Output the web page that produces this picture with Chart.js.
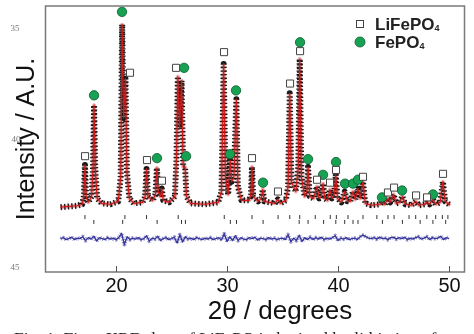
<!DOCTYPE html>
<html>
<head>
<meta charset="utf-8">
<script src="https://cdn.jsdelivr.net/npm/chart.js@4.4.1/dist/chart.umd.min.js"></script>
<style>
  body { margin: 0; background: #fff; }
  canvas { display: block; }
</style>
</head>
<body>
<canvas id="xrd" width="474" height="334"></canvas>
<script>
// observed / calculated profile (2theta, intensity above background)
var profX = [15.0, 16.5, 16.95, 17.1, 17.2, 17.3, 17.5, 17.8, 17.93, 18.02, 18.12, 18.3, 18.7, 19.5,
  20.2, 20.42, 20.55, 20.68, 20.85, 20.98, 21.2, 21.6, 22.4, 22.62, 22.75, 22.88, 23.3, 23.55, 23.68,
  23.8, 24.0, 24.12, 24.25, 24.8, 25.3, 25.45, 25.57, 25.72, 25.9, 26.05, 26.22, 26.35, 26.7, 28.0,
  29.2, 29.5, 29.7, 29.85, 30.1, 30.28, 30.42, 30.62, 30.84, 30.98, 31.3, 32.0, 32.15, 32.25, 32.35,
  32.8, 33.1, 33.22, 33.35, 34.3, 34.58, 34.8, 35.3, 35.5, 35.65, 35.8, 36.2, 36.42, 36.55, 36.7,
  37.0, 37.2, 37.3, 37.45, 37.8, 38.1, 38.3, 38.5, 38.65, 38.8, 39.05, 39.27, 39.45, 39.65, 39.8,
  39.95, 40.3, 40.6, 40.85, 41.1, 41.35, 41.55, 41.8, 42.0, 42.25, 42.45, 43.0, 43.8, 44.0, 44.2,
  44.5, 44.7, 45.0, 45.25, 45.55, 45.8, 46.05, 46.6, 47.0, 47.3, 47.8, 48.0, 48.25, 48.55, 48.8,
  49.2, 49.45, 49.65, 50.1];
var profY = [-1, 0.5, 2, 10, 42, 10, 4, 10, 40, 103, 40, 8, 3, 2,
  5, 30, 185, 90, 130, 35, 8, 3, 4, 10, 38, 10, 6, 12, 39,
  15, 10, 18, 6, 4, 10, 50, 132, 80, 128, 40, 40, 10, 3, 2,
  4, 15, 145, 30, 12, 47, 25, 30, 109, 20, 6, 6, 12, 40, 10,
  5, 8, 17, 5, 3, 7, 3, 6, 20, 115, 25, 15, 40, 150, 30,
  10, 15, 40, 10, 8, 20, 8, 10, 23, 8, 6, 17, 8, 12, 32,
  8, 4, 15, 5, 5, 15, 7, 18, 8, 25, 3, 1, 2, 5, 2,
  8, 4, 12, 3, 4, 10, 2, 1, 5, 1, 2, 4, 2, 7, 2,
  4, 25, 5, 1];

// phase markers
var lfpMarkX = [17.21, 21.26, 22.79, 24.14, 25.41, 29.73, 32.25, 34.59, 35.68, 36.58, 38.11, 39.28, 39.82, 42.25, 44.5, 45.05, 47.03, 48.02, 49.46];
var lfpMarkY = [51, 136, 47, 26, 141, 157, 49, 15, 125, 158, 27, 24, 37, 30, 14, 19, 11, 9, 33];
var fpMarkX = [18.02, 20.54, 23.69, 26.13, 26.31, 30.27, 30.81, 33.24, 36.58, 37.3, 38.65, 39.82, 40.63, 41.35, 41.8, 43.96, 45.77, 48.56];
var fpMarkY = [113, 198, 49, 141, 51, 53, 118, 24, 167, 48, 32, 45, 23, 23, 27, 9, 16, 12];

// Bragg reflection ticks
var lfpBragg = [17.2, 20.8, 22.75, 25.6, 29.75, 32.25, 34.6, 35.65, 36.55, 37.95, 39.3, 39.85, 40.9, 42.25, 43.5, 44.5, 45.05, 46.4, 47.0, 48.0, 48.8, 49.4, 49.9];
var fpBragg = [18.0, 20.6, 23.7, 25.9, 26.25, 30.3, 30.85, 33.25, 36.5, 37.3, 38.7, 39.8, 40.6, 41.35, 41.8, 44.0, 45.8, 47.4, 48.55, 49.7];
var braggRowY = [-11, -16];

// difference curve, sampled from 15 to 50 deg every 0.25 deg
var diffStart = 15, diffStep = 0.25;
var diffY = [-33, -32, -34, -33, -31.5, -34, -32.5, -33,
  -31, -35, -32, -33.5,
  -30.5, -35.5, -32, -33,
  -34, -32, -33.5, -32.5, -34, -32,
  -27.5, -39,
  -31, -34, -32.5, -33.5, -32, -34, -33,
  -30, -35.5,
  -32.5, -33.5, -30.5,
  -35, -33, -32, -34, -33, -31.5,
  -37.5, -29, -36.5, -31,
  -33.5, -32.5, -34, -32, -33, -34, -32.5, -33.5, -32, -34,
  -33, -32, -34.5, -28,
  -36, -31, -35, -30,
  -35, -32,
  -33.5, -34, -32, -33, -31.5, -34.5, -32.5, -33,
  -34, -32, -33.5, -32.5,
  -34, -33, -32.5, -34, -29,
  -36, -32.5, -35, -29.5,
  -36, -32,
  -34, -31.5, -34, -32, -33.5, -31.5,
  -34, -32.5, -33.5, -32,
  -30, -35, -32.5,
  -33.5, -32, -34, -33, -32.5, -34, -31,
  -29.5, -31, -32.5,
  -33, -32, -33.5, -31.5, -33, -32.5, -34, -32,
  -31.5, -33.5, -32, -33, -31.5, -34, -32.5, -33.5,
  -32, -31, -33.5, -32.5, -31, -34, -32, -33,
  -32.5, -30.5, -34, -32, -33];

var xTickVals = [20, 30, 40, 50];

function pts(xs, ys) {
  return xs.map(function (v, i) { return { x: v, y: ys[i] }; });
}
var profile = pts(profX, profY);
var diffData = diffY.map(function (v, i) { return { x: diffStart + i * diffStep, y: v }; });
var lfpTicks = lfpBragg.map(function (v) { return { x: v, y: braggRowY[0] }; });
var fpTicks = fpBragg.map(function (v) { return { x: v, y: braggRowY[1] }; });

var green = '#17a253';
var sans = '"Liberation Sans", Arial, sans-serif';

var decor = {
  id: 'decor',
  afterDraw: function (chart) {
    var ctx = chart.ctx, a = chart.chartArea, x = chart.scales.x;
    ctx.save();
    // frame
    ctx.strokeStyle = '#7a7a7a';
    ctx.lineWidth = 1.5;
    ctx.strokeRect(a.left + 0.5, a.top, a.right - a.left, a.bottom - a.top);
    // inward ticks and labels
    ctx.strokeStyle = '#555';
    ctx.lineWidth = 1;
    ctx.fillStyle = '#111';
    ctx.textAlign = 'center';
    ctx.textBaseline = 'middle';
    ctx.font = '20px ' + sans;
    xTickVals.forEach(function (v) {
      var px = Math.round(x.getPixelForValue(v)) + 0.5;
      ctx.beginPath();
      ctx.moveTo(px, a.bottom);
      ctx.lineTo(px, a.bottom - 6);
      ctx.stroke();
      ctx.fillText(String(v), px, 286);
    });
    // axis titles
    ctx.font = '26px ' + sans;
    ctx.fillText('2\u03b8 / degrees', 280, 312);
    ctx.save();
    ctx.translate(27, 139);
    ctx.rotate(-Math.PI / 2);
    ctx.font = '25px ' + sans;
    ctx.fillText('Intensity / A.U.', 0, 0);
    ctx.restore();
    // legend
    ctx.textAlign = 'left';
    ctx.strokeStyle = '#444';
    ctx.lineWidth = 1;
    ctx.fillStyle = '#fff';
    ctx.fillRect(356.5, 20.5, 7, 7);
    ctx.strokeRect(356.5, 20.5, 7, 7);
    ctx.beginPath();
    ctx.arc(360, 42, 5, 0, Math.PI * 2);
    ctx.fillStyle = green;
    ctx.fill();
    ctx.strokeStyle = '#0d5a2d';
    ctx.lineWidth = 0.8;
    ctx.stroke();
    ctx.fillStyle = '#222';
    ctx.font = 'bold 17px ' + sans;
    ctx.fillText('LiFePO', 375, 25);
    var w1 = ctx.measureText('LiFePO').width;
    ctx.fillText('FePO', 375, 43);
    var w2 = ctx.measureText('FePO').width;
    ctx.font = 'bold 9px ' + sans;
    ctx.fillText('4', 375 + w1, 29);
    ctx.fillText('4', 375 + w2, 47);
    // stray margin numbers and caption
    ctx.fillStyle = '#777';
    ctx.font = '9px "Liberation Serif", serif';
    ctx.textAlign = 'center';
    ctx.fillText('35', 15, 29);
    ctx.fillText('40', 16, 140);
    ctx.fillText('45', 15, 268);
    ctx.fillStyle = '#222';
    ctx.textAlign = 'left';
    ctx.textBaseline = 'alphabetic';
    ctx.font = '17.5px "Liberation Serif", serif';
    ctx.fillText('Fig. 1. Fit to XRD data of LiFePO4 obtained by lithiation of', 14, 344);
    ctx.restore();
  }
};

new Chart(document.getElementById('xrd'), {
  type: 'line',
  data: {
    datasets: [
      { label: 'LiFePO4', data: pts(lfpMarkX, lfpMarkY), showLine: false, pointStyle: 'rect',
        pointRadius: 5, pointBackgroundColor: '#fff', pointBorderColor: '#444', pointBorderWidth: 1, order: 0 },
      { label: 'FePO4', data: pts(fpMarkX, fpMarkY), showLine: false, pointStyle: 'circle',
        pointRadius: 4.7, pointBackgroundColor: green, pointBorderColor: '#0d5a2d', pointBorderWidth: 0.8, order: 0 },
      { label: 'calc', data: profile, borderColor: '#d01a1a', borderWidth: 1.2, borderJoinStyle: 'round',
        pointRadius: 0, tension: 0, order: 1 },
      { label: 'obs', data: profile, borderColor: '#1a1a1a', borderWidth: 6, borderDash: [1.4, 2.2],
        borderJoinStyle: 'round', pointRadius: 0, tension: 0, order: 2 },
      { label: 'obs halo', data: profile, borderColor: 'rgba(220,70,70,0.45)', borderWidth: 4,
        borderJoinStyle: 'round', pointRadius: 0, tension: 0, order: 3 },
      { label: 'LiFePO4 ticks', data: lfpTicks, showLine: false, pointStyle: 'line', rotation: 90,
        pointRadius: 2, pointBorderColor: '#333', pointBorderWidth: 1, order: 4 },
      { label: 'FePO4 ticks', data: fpTicks, showLine: false, pointStyle: 'line', rotation: 90,
        pointRadius: 2, pointBorderColor: '#333', pointBorderWidth: 1, order: 4 },
      { label: 'diff', data: diffData, borderColor: '#34349a', borderWidth: 1.3, borderJoinStyle: 'round',
        pointRadius: 0, tension: 0, order: 5 },
      { label: 'diff scatter', data: diffData, borderColor: 'rgba(60,60,160,0.55)', borderWidth: 4,
        borderDash: [1, 1.5], borderJoinStyle: 'round', pointRadius: 0, tension: 0, order: 6 }
    ]
  },
  options: {
    responsive: false,
    animation: false,
    layout: { padding: { left: 45, right: 10, top: 1, bottom: 0 } },
    plugins: { legend: { display: false }, tooltip: { enabled: false } },
    scales: {
      x: {
        type: 'linear', min: 13.6, max: 51.35,
        grid: { display: false }, border: { display: false },
        afterBuildTicks: function (s) { s.ticks = xTickVals.map(function (v) { return { value: v }; }); },
        afterFit: function (s) { s.height = 62; },
        ticks: { display: false }
      },
      y: { display: false, min: -67, max: 204 }
    }
  },
  plugins: [decor]
});
</script>
</body>
</html>
